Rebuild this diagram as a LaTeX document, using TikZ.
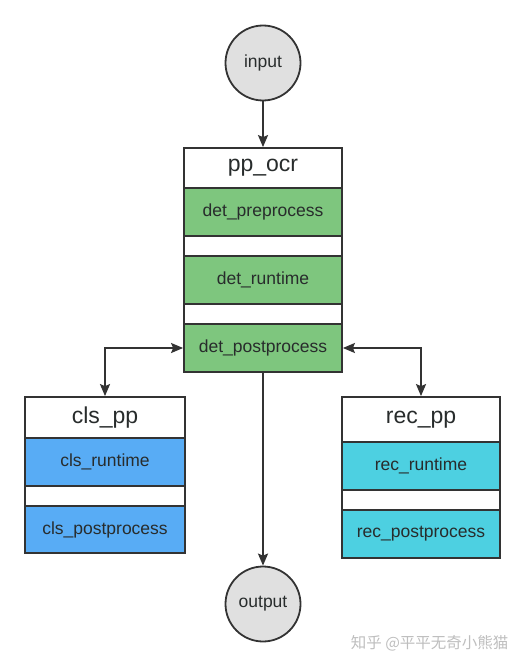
\documentclass[tikz,border=0pt]{standalone}
\usepackage{fontspec}
\setmainfont{Liberation Sans}
\newfontfamily\cjkfont{Noto Sans CJK SC}
\usepackage{tikz}
\usetikzlibrary{arrows,arrows.meta,shapes,positioning}
\usepackage{xcolor}
\definecolor{ppline}{RGB}{51,51,51}
\definecolor{pptext}{RGB}{40,44,44}
\definecolor{ppgreen}{RGB}{126,198,126}
\definecolor{ppblue}{RGB}{88,172,245}
\definecolor{ppcyan}{RGB}{77,208,225}
\definecolor{ppgray}{RGB}{224,224,224}
\definecolor{ppmark}{RGB}{190,190,190}
\tikzstyle{arrow} = [line width=1.8pt,->,>={Stealth[length=12pt,width=10pt,inset=2pt]},color=ppline]
\tikzstyle{stage} = [rectangle, minimum width=158pt, minimum height=48pt, inner sep=2pt, text centered, draw=ppline, line width=1.8pt, text=pptext, font=\fontsize{17.5}{19}\selectfont]
\tikzstyle{head} = [stage, fill=white, minimum height=40pt, font=\fontsize{23}{25}\selectfont]
\tikzstyle{frame} = [rectangle, minimum width=158pt, draw=ppline, line width=1.8pt, inner sep=0pt]
\tikzstyle{endpoint} = [circle, minimum size=75pt, inner sep=0pt, draw=ppline, fill=ppgray, line width=1.8pt, text=pptext, font=\fontsize{17.5}{19}\selectfont]

\begin{document}
\begin{tikzpicture}[x=1pt,y=-1pt]
\useasboundingbox (0,0) rectangle (525,666);
% In / out
\node[endpoint] (input) at (263,63) {input};
\node[endpoint] (output) at (263,604) {output};

% pp_ocr
\node[frame, minimum height=224pt] (ppframe) at (263,260) {};
\node[head] (pphead) at (263,168) {pp\_ocr};
\node[stage, fill=ppgreen] (detpre) at (263,212) {det\_preprocess};
\node[stage, fill=ppgreen] (detrun) at (263,280) {det\_runtime};
\node[stage, fill=ppgreen] (detpost) at (263,348) {det\_postprocess};

% cls_pp
\node[frame, minimum width=160pt, minimum height=156pt] (clsframe) at (105,475) {};
\node[head, minimum width=160pt, minimum height=41pt] (clshead) at (105,417.5) {cls\_pp};
\node[stage, fill=ppblue, minimum width=160pt] (clsrun) at (105,462) {cls\_runtime};
\node[stage, fill=ppblue, minimum width=160pt, minimum height=47pt] (clspost) at (105,529.5) {cls\_postprocess};

% rec_pp
\node[frame, minimum height=161pt] (recframe) at (421,477.5) {};
\node[head, minimum height=45pt] (rechead) at (421,419.5) {rec\_pp};
\node[stage, fill=ppcyan] (recrun) at (421,466) {rec\_runtime};
\node[stage, fill=ppcyan] (recpost) at (421,534) {rec\_postprocess};

% Connectors
\draw[arrow] (input.south) -- (pphead.north);
\draw[arrow, <->] (clshead.north) |- (detpost.west);
\draw[arrow, <->] (rechead.north) |- (detpost.east);
\draw[arrow] (ppframe.south) -- (output.north);

\node[anchor=east, text=ppmark, font=\cjkfont\fontsize{15.5}{17}\selectfont] (mark) at (512,643) {知乎 @平平无奇小熊猫};
\end{tikzpicture}
\end{document}
